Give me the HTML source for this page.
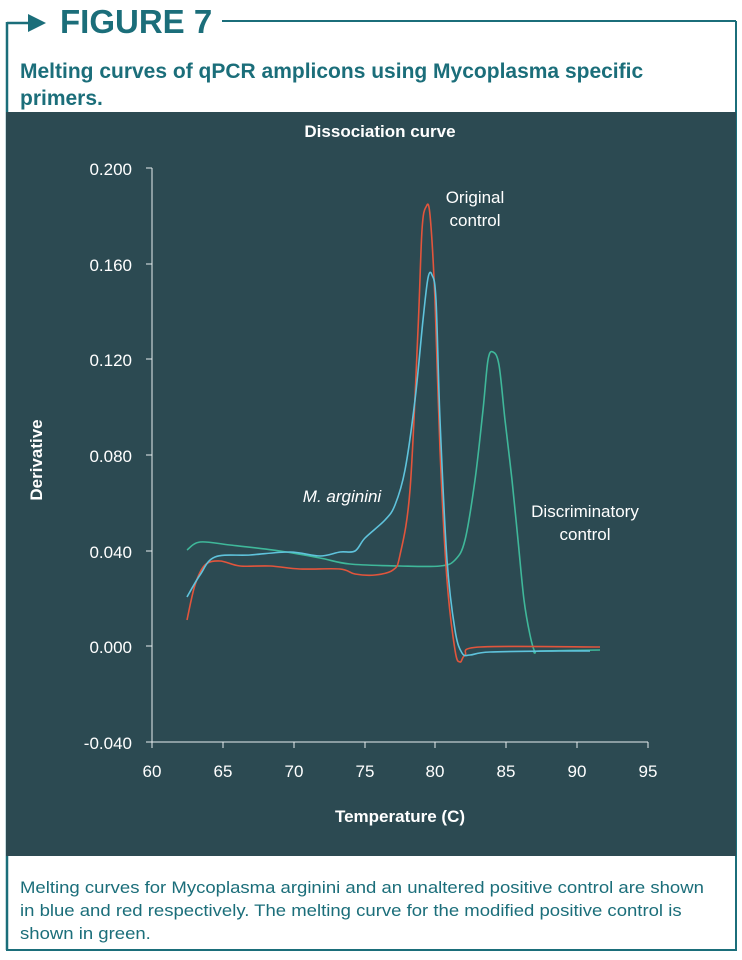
<!DOCTYPE html>
<html><head><meta charset="utf-8"><style>
body{margin:0;background:#fff;width:742px;height:960px;position:relative;overflow:hidden;font-family:"Liberation Sans","Noto Sans CJK SC",sans-serif}
.t{position:absolute;color:#1b6e7a}
</style></head><body>
<svg width="742" height="960" style="position:absolute;left:0;top:0">
<line x1="7" y1="22" x2="7" y2="950" stroke="#1b6e7a" stroke-width="2.5"/>
<line x1="736" y1="21" x2="736" y2="950" stroke="#1b6e7a" stroke-width="2"/>
<line x1="6" y1="950" x2="737" y2="950" stroke="#1b6e7a" stroke-width="2"/>
<line x1="7" y1="23" x2="30" y2="23" stroke="#1b6e7a" stroke-width="2.5"/>
<polygon points="28,14 46,23 28,32" fill="#1b6e7a"/>
<line x1="222" y1="21" x2="736" y2="21" stroke="#1b6e7a" stroke-width="2"/>
<rect x="6" y="112" width="730" height="744" fill="#2c4a52"/>
<g stroke="#e8eef0" stroke-width="1" fill="none">
<line x1="152" y1="168" x2="152" y2="742"/>
<line x1="152" y1="742" x2="648" y2="742"/>
</g>
<g stroke="#e8eef0" stroke-width="1">
<line x1="146" y1="168" x2="152" y2="168"/><line x1="146" y1="264" x2="152" y2="264"/><line x1="146" y1="359" x2="152" y2="359"/><line x1="146" y1="455" x2="152" y2="455"/><line x1="146" y1="551" x2="152" y2="551"/><line x1="146" y1="646" x2="152" y2="646"/><line x1="146" y1="742" x2="152" y2="742"/>
<line x1="152" y1="742" x2="152" y2="748"/><line x1="223" y1="742" x2="223" y2="748"/><line x1="294" y1="742" x2="294" y2="748"/><line x1="365" y1="742" x2="365" y2="748"/><line x1="435" y1="742" x2="435" y2="748"/><line x1="506" y1="742" x2="506" y2="748"/><line x1="577" y1="742" x2="577" y2="748"/><line x1="648" y1="742" x2="648" y2="748"/>
</g>
<g fill="#fff" font-size="17" text-anchor="end" font-family="Liberation Sans">
<text x="132" y="175">0.200</text><text x="132" y="271">0.160</text><text x="132" y="366">0.120</text><text x="132" y="462">0.080</text><text x="132" y="558">0.040</text><text x="132" y="653">0.000</text><text x="132" y="749">-0.040</text>
</g>
<g fill="#fff" font-size="17" text-anchor="middle">
<text x="152" y="777">60</text><text x="223" y="777">65</text><text x="294" y="777">70</text><text x="365" y="777">75</text><text x="435" y="777">80</text><text x="506" y="777">85</text><text x="577" y="777">90</text><text x="648" y="777">95</text>
<text x="380" y="137" font-weight="bold">Dissociation curve</text>
<text x="400" y="822" font-weight="bold">Temperature (C)</text>
<text x="475" y="203">Original</text><text x="475" y="226">control</text>
<text x="585" y="517">Discriminatory</text><text x="585" y="540">control</text>
<text x="342" y="502" font-style="italic">M. arginini</text>
<text x="0" y="0" font-weight="bold" transform="translate(42,460) rotate(-90)">Derivative</text>
</g>
<g fill="none" stroke-width="1.6" stroke-linejoin="round">
<path id="g" stroke="#3fb89a" data-p="187,550 200,542 230,545 280,551 320,558 350,564 400,566 440,566 455,560 465,540 475,480 483,410 488,360 493,352 499,365 505,420 512,480 518,540 524,600 530,635 535,652 540,651 600,650"/>
<path id="r" stroke="#e2553c" data-p="187,620 195,585 205,565 220,561 240,566 270,566 300,569 340,569 355,574 375,575 393,570 400,555 410,490 418,330 422,230 426,207 430,215 435,300 440,450 447,580 455,650 460,662 465,655 480,647 600,647"/>
<path id="b" stroke="#5fc3dc" data-p="187,597 200,575 215,557 250,555 290,552 320,556 340,552 355,551 365,538 385,520 395,505 405,470 415,400 423,320 428,278 432,275 436,300 440,420 447,560 455,630 462,653 470,655 490,652 560,651 590,651"/>
</g>
</svg>
<script>
['g','r','b'].forEach(function(id){var e=document.getElementById(id);var p=e.getAttribute('data-p').split(' ').map(function(s){return s.split(',').map(Number)});
var d='M'+p[0][0]+','+p[0][1];for(var i=0;i<p.length-1;i++){var p0=p[i-1]||p[i],p1=p[i],p2=p[i+1],p3=p[i+2]||p2;
d+=' C'+(p1[0]+(p2[0]-p0[0])/6)+','+(p1[1]+(p2[1]-p0[1])/6)+' '+(p2[0]-(p3[0]-p1[0])/6)+','+(p2[1]-(p3[1]-p1[1])/6)+' '+p2[0]+','+p2[1];}
e.setAttribute('d',d);});
</script>
<div class="t" style="left:60px;top:3px;font-size:33px;font-weight:bold">FIGURE 7</div>
<div class="t" style="left:20px;top:58px;font-size:21px;font-weight:bold;line-height:27px;width:700px">Melting curves of qPCR amplicons using Mycoplasma specific primers.</div>
<div class="t" style="left:20px;top:876px;font-size:17px;line-height:23px;white-space:nowrap;transform:scaleX(1.09);transform-origin:0 0">Melting curves for Mycoplasma arginini and an unaltered positive control are shown<br>in blue and red respectively. The melting curve for the modified positive control is<br>shown in green.</div>
</body></html>
